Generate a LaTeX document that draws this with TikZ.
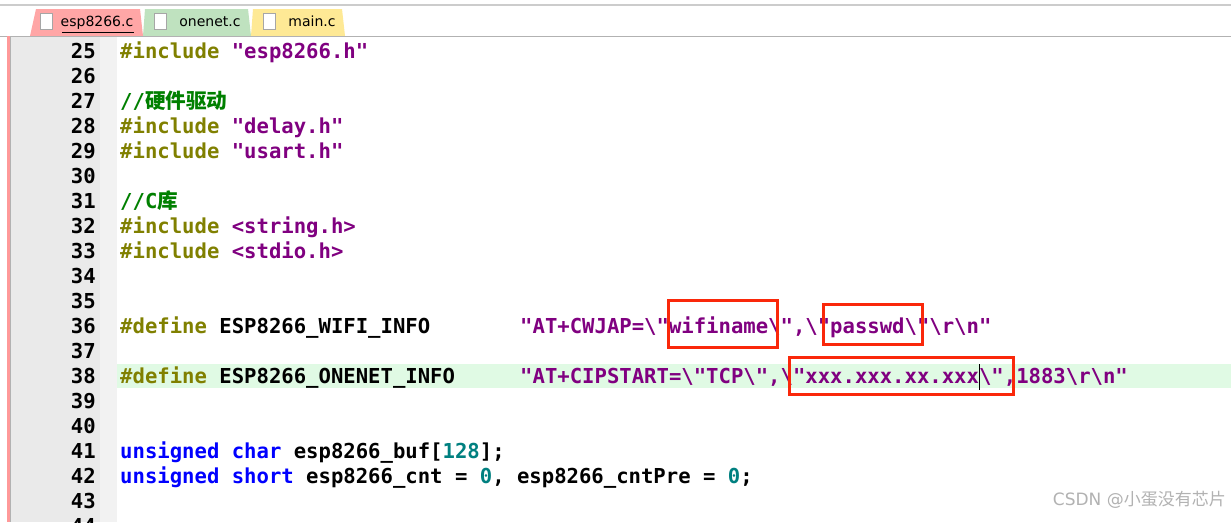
\documentclass[tikz,border=0pt]{standalone}
\usepackage{fontspec}
\setmonofont{DejaVu Sans Mono}
\newfontfamily\cjk{Noto Sans CJK SC}
\newfontfamily\uisans{DejaVu Sans}
\definecolor{incl}{RGB}{128,128,0}
\definecolor{str}{RGB}{128,0,128}
\definecolor{cmt}{RGB}{0,128,0}
\definecolor{kw}{RGB}{0,0,255}
\definecolor{num}{RGB}{0,128,128}
\definecolor{hl}{RGB}{224,250,228}
\definecolor{gut}{RGB}{234,234,234}
\definecolor{box}{RGB}{250,40,10}
\begin{document}
\begin{tikzpicture}[x=1pt,y=-1pt,
  code/.style={anchor=base west,inner sep=0pt,font=\ttfamily\bfseries\fontsize{20.6}{22}\selectfont},
  lnum/.style={anchor=base east,inner sep=0pt,font=\ttfamily\bfseries\fontsize{20.6}{22}\selectfont},
  tab/.style={anchor=base,inner sep=0pt,font=\uisans\fontsize{14}{16}\selectfont},
  redbox/.style={draw=box,line width=3pt}]
\useasboundingbox (0,0) rectangle (1231,522);
\fill[white] (0,0) rectangle (1231,522);
% tabs
\fill[gray!40] (0,6) -- (1231,6) -- (1231,4) -- (0,4) -- cycle;
\fill[red!35!white] (30,36) -- (36,9) -- (140,9) -- (143,36) -- cycle;
\fill[green!55!black!25!white] (143,36) -- (145,9) -- (248,9) -- (251,36) -- cycle;
\fill[yellow!65!orange!40!white] (251,36) -- (253,9) -- (342,9) -- (345,36) -- cycle;
\draw[gray!60] (0,36) -- (1231,36);
\foreach \x in {40,154,263}{\draw[gray!70,fill=white] (\x,13) rectangle (\x+12,29);}
\node[tab] (t1) at (97,27) {esp8266.c};
\draw[black,line width=1pt] (62,32) -- (134,32);
\node[tab] (t2) at (210,27) {onenet.c};
\node[tab] (t3) at (312,27) {main.c};
% gutter
\fill[red!40!white] (7,36) rectangle (10,522);
\fill[gut] (10,37) rectangle (100,522);
\fill[gray!10] (100,37) rectangle (117,522);
\draw[gray!60] (10,37) -- (10,522);
% highlight line 38
\fill[hl] (117,364) rectangle (1231,388);
% line numbers
\foreach \n [count=\i from 0] in {25,...,44}{
  \node[lnum] (n\n) at (96,58+25*\i) {\n};
}
\node[code,text=incl] (l25) at (120,58) {\#include {\color{str}"esp8266.h"}};
\node[code,text=cmt] (l27) at (120,108) {//{\cjk 硬件驱动}};
\node[code,text=incl] (l28) at (120,133) {\#include {\color{str}"delay.h"}};
\node[code,text=incl] (l29) at (120,158) {\#include {\color{str}"usart.h"}};
\node[code,text=cmt] (l31) at (120,208) {//C{\cjk 库}};
\node[code,text=incl] (l32) at (120,233) {\#include {\color{str}<string.h>}};
\node[code,text=incl] (l33) at (120,258) {\#include {\color{str}<stdio.h>}};
\node[code,text=incl] (l36) at (120,333) {\#define {\color{black}ESP8266\_WIFI\_INFO}};
\node[code,text=str] (s36) at (520,333) {"AT+CWJAP=\textbackslash"wifiname\textbackslash",\textbackslash"passwd\textbackslash"\textbackslash r\textbackslash n"};
\node[code,text=incl] (l38) at (120,383) {\#define {\color{black}ESP8266\_ONENET\_INFO}};
\node[code,text=str] (s38) at (520,383) {"AT+CIPSTART=\textbackslash"TCP\textbackslash",\textbackslash"xxx.xxx.xx.xxx\textbackslash",1883\textbackslash r\textbackslash n"};
\node[code,text=kw] (l41) at (120,458) {unsigned char {\color{black}esp8266\_buf[}{\color{num}128}{\color{black}];}};
\node[code,text=kw] (l42) at (120,483) {unsigned short {\color{black}esp8266\_cnt = }{\color{num}0}{\color{black}, esp8266\_cntPre = }{\color{num}0}{\color{black};}};
% red boxes
\draw[redbox] (668,300) rectangle (777,347);
\draw[redbox] (823,304) rectangle (922,344);
\draw[redbox] (789,357) rectangle (1013,394);
\draw[black,line width=0.8pt] (979,364) -- (979,390);
% watermark
\node[anchor=base east,inner sep=0pt,text=gray!60,font=\uisans\fontsize{17}{19}\selectfont] (wm) at (1226,505) {CSDN @{\cjk 小蛋没有芯片}};
\end{tikzpicture}
\end{document}
